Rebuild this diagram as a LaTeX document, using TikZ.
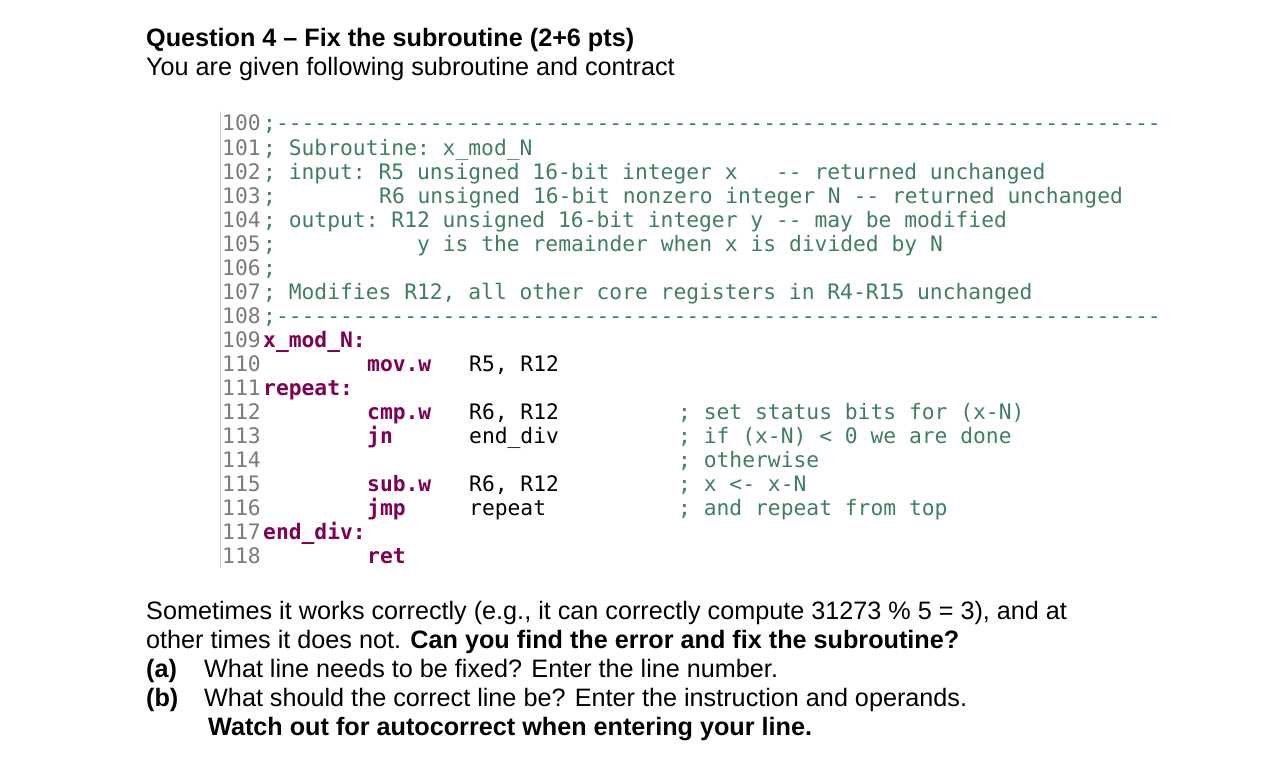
\documentclass[tikz,border=0pt]{standalone}
\usepackage{fontspec}
\setmainfont{Liberation Sans}
\setmonofont{DejaVu Sans Mono}
\definecolor{lnum}{HTML}{7A7A7A}
\definecolor{cmt}{HTML}{3F7F5F}
\definecolor{kw}{HTML}{7F0055}
\tikzset{
  txt/.style={anchor=base west,inner sep=0pt,font=\fontsize{25.2}{30}\selectfont},
  btxt/.style={txt,font=\bfseries\fontsize{25.2}{30}\selectfont},
  cd/.style={anchor=base west,inner sep=0pt,font=\ttfamily\fontsize{21.3}{25}\selectfont},
  ln/.style={cd,text=lnum},
  cmtx/.style={cd,text=cmt},
  kwd/.style={cd,text=kw,font=\ttfamily\bfseries\fontsize{21.3}{25}\selectfont},
}
\def\dashes{---------------------------------------------------------------------}
\begin{document}
\begin{tikzpicture}[x=1pt,y=-1pt]
\useasboundingbox (0,0) rectangle (1280,767);
\node[btxt] (t1) at (146,47) {Question 4 – Fix the subroutine (2+6 pts)};
\node[txt] (t2) at (146,76) {You are given following subroutine and contract};
\draw[black!20,line width=1pt] (220,112) -- (220,568);
\foreach \n [count=\i from 0] in {100,...,118}{
  \node[ln] (n\n) at (222,{131+24.05*\i}) {\n};
}
\def\Y#1{{131+24.05*(#1-100)}}
\node[cmtx] (c100) at (263,\Y{100}) {;\dashes};
\node[cmtx] (c101) at (263,\Y{101}) {; Subroutine: x\_mod\_N};
\node[cmtx] (c102) at (263,\Y{102}) {; input: R5 unsigned 16-bit integer x\ \ \ -{}- returned unchanged};
\node[cmtx] (c103) at (263,\Y{103}) {;};
\node[cmtx] (c103b) at (379,\Y{103}) {R6 unsigned 16-bit nonzero integer N -{}- returned unchanged};
\node[cmtx] (c104) at (263,\Y{104}) {; output: R12 unsigned 16-bit integer y -{}- may be modified};
\node[cmtx] (c105) at (263,\Y{105}) {;};
\node[cmtx] (c105b) at (417,\Y{105}) {y is the remainder when x is divided by N};
\node[cmtx] (c106) at (263,\Y{106}) {;};
\node[cmtx] (c107) at (263,\Y{107}) {; Modifies R12, all other core registers in R4-R15 unchanged};
\node[cmtx] (c108) at (263,\Y{108}) {;\dashes};
\node[kwd] (l109) at (263,\Y{109}) {x\_mod\_N:};
\node[kwd] (m110) at (367,\Y{110}) {mov.w};
\node[cd] (o110) at (469,\Y{110}) {R5, R12};
\node[kwd] (l111) at (263,\Y{111}) {repeat:};
\node[kwd] (m112) at (367,\Y{112}) {cmp.w};
\node[cd] (o112) at (469,\Y{112}) {R6, R12};
\node[cmtx] (k112) at (678,\Y{112}) {; set status bits for (x-N)};
\node[kwd] (m113) at (367,\Y{113}) {jn};
\node[cd] (o113) at (469,\Y{113}) {end\_div};
\node[cmtx] (k113) at (678,\Y{113}) {; if (x-N) < 0 we are done};
\node[cmtx] (k114) at (678,\Y{114}) {; otherwise};
\node[kwd] (m115) at (367,\Y{115}) {sub.w};
\node[cd] (o115) at (469,\Y{115}) {R6, R12};
\node[cmtx] (k115) at (678,\Y{115}) {; x <- x-N};
\node[kwd] (m116) at (367,\Y{116}) {jmp};
\node[cd] (o116) at (469,\Y{116}) {repeat};
\node[cmtx] (k116) at (678,\Y{116}) {; and repeat from top};
\node[kwd] (l117) at (263,\Y{117}) {end\_div:};
\node[kwd] (m118) at (367,\Y{118}) {ret};
\node[txt] (b1) at (146,619) {Sometimes it works correctly (e.g., it can correctly compute 31273 \% 5 = 3), and at};
\node[txt] (b2) at (146,648) {other times it does not. \textbf{Can you find the error and fix the subroutine?}};
\node[btxt] (a) at (146,677) {(a)};
\node[txt] (at) at (204,677) {What line needs to be fixed? Enter the line number.};
\node[btxt] (b) at (146,706) {(b)};
\node[txt] (bt) at (204,706) {What should the correct line be? Enter the instruction and operands.};
\node[btxt] (w) at (208,735) {Watch out for autocorrect when entering your line.};
\end{tikzpicture}
\end{document}
